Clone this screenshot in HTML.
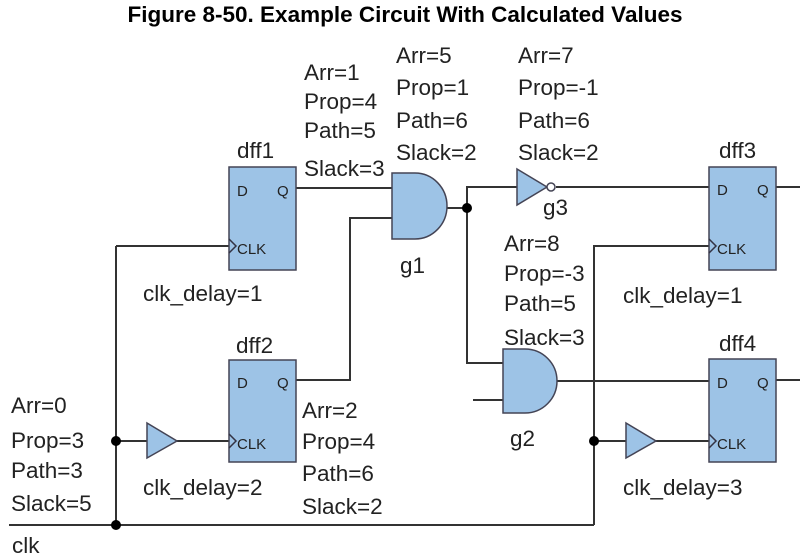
<!DOCTYPE html>
<html><head><meta charset="utf-8"><style>
html,body{margin:0;padding:0;background:#fff;}
svg{display:block;}
text{font-family:"Liberation Sans",sans-serif;font-size:22.5px;fill:#222;}
.t{font-weight:bold;font-size:22.5px;fill:#000;}
.s{font-size:15px;}
</style></head><body>
<svg width="809" height="560" viewBox="0 0 809 560" xmlns="http://www.w3.org/2000/svg">
<text class="t" x="405" y="22" text-anchor="middle">Figure 8-50. Example Circuit With Calculated Values</text>
<g stroke="#333" stroke-width="2" fill="none">
<line x1="9" y1="525" x2="594" y2="525"/>
<line x1="116" y1="246" x2="116" y2="525"/>
<line x1="116" y1="246" x2="229" y2="246"/>
<line x1="116" y1="441" x2="147" y2="441"/>
<line x1="177" y1="441" x2="229" y2="441"/>
<line x1="296" y1="188" x2="392" y2="188"/>
<polyline points="296,380 350,380 350,218 392,218"/>
<line x1="446" y1="208" x2="467" y2="208"/>
<polyline points="467,208 467,187 517,187"/>
<line x1="556" y1="187" x2="709" y2="187"/>
<polyline points="467,208 467,363 503,363"/>
<line x1="473" y1="400" x2="503" y2="400"/>
<line x1="557" y1="381" x2="709" y2="381"/>
<polyline points="594,525 594,246 709,246"/>
<line x1="594" y1="441" x2="626" y2="441"/>
<line x1="656" y1="441" x2="709" y2="441"/>
<line x1="776" y1="187" x2="800" y2="187"/>
<line x1="776" y1="380" x2="800" y2="380"/>
</g>
<g fill="#000">
<circle cx="116" cy="525" r="5"/><circle cx="116" cy="441" r="5"/>
<circle cx="467" cy="208" r="5"/><circle cx="594" cy="441" r="5"/>
</g>
<g fill="#9dc3e6" stroke="#445" stroke-width="1.5">
<rect x="229" y="167" width="67" height="103"/>
<rect x="229" y="360" width="67" height="102"/>
<rect x="709" y="167" width="67" height="103"/>
<rect x="709" y="359" width="67" height="103"/>
<path d="M392,173 H415 A32,33 0 0 1 415,239 H392 Z"/>
<path d="M503,349 H525 A32,32 0 0 1 525,413 H503 Z"/>
<polygon points="147,423 177,441 147,458"/>
<polygon points="626,423 656,441 626,458"/>
<polygon points="517,169 547,187 517,205"/>
<circle cx="551" cy="187" r="4" fill="#fff"/>
</g>
<g fill="none" stroke="#334" stroke-width="1.5">
<polyline points="229,239 236,246 229,253"/>
<polyline points="229,434 236,441 229,448"/>
<polyline points="709,239 716,246 709,253"/>
<polyline points="709,434 716,441 709,448"/>
</g>
<text class="s" x="237" y="196">D</text><text class="s" x="277" y="196">Q</text><text class="s" x="237" y="254">CLK</text>
<text class="s" x="237" y="388">D</text><text class="s" x="277" y="388">Q</text><text class="s" x="237" y="449">CLK</text>
<text class="s" x="717" y="195">D</text><text class="s" x="757" y="195">Q</text><text class="s" x="717" y="254">CLK</text>
<text class="s" x="717" y="388">D</text><text class="s" x="757" y="388">Q</text><text class="s" x="717" y="449">CLK</text>
<text x="237" y="158">dff1</text><text x="719" y="158">dff3</text>
<text x="236" y="353">dff2</text><text x="719" y="351">dff4</text>
<text x="400" y="273">g1</text><text x="543" y="215">g3</text><text x="510" y="446">g2</text>
<text x="143" y="301">clk_delay=1</text><text x="623" y="303">clk_delay=1</text>
<text x="143" y="495">clk_delay=2</text><text x="623" y="495">clk_delay=3</text>
<text x="12" y="553">clk</text>
<text x="304" y="80">Arr=1</text><text x="304" y="109">Prop=4</text><text x="304" y="138">Path=5</text><text x="304" y="176">Slack=3</text>
<text x="396" y="63">Arr=5</text><text x="396" y="95">Prop=1</text><text x="396" y="128">Path=6</text><text x="396" y="160">Slack=2</text>
<text x="518" y="63">Arr=7</text><text x="518" y="95">Prop=-1</text><text x="518" y="128">Path=6</text><text x="518" y="160">Slack=2</text>
<text x="504" y="251">Arr=8</text><text x="504" y="281">Prop=-3</text><text x="504" y="311">Path=5</text><text x="504" y="345">Slack=3</text>
<text x="11" y="413">Arr=0</text><text x="11" y="448">Prop=3</text><text x="11" y="478">Path=3</text><text x="11" y="511">Slack=5</text>
<text x="302" y="418">Arr=2</text><text x="302" y="449">Prop=4</text><text x="302" y="481">Path=6</text><text x="302" y="514">Slack=2</text>
</svg>
</body></html>
